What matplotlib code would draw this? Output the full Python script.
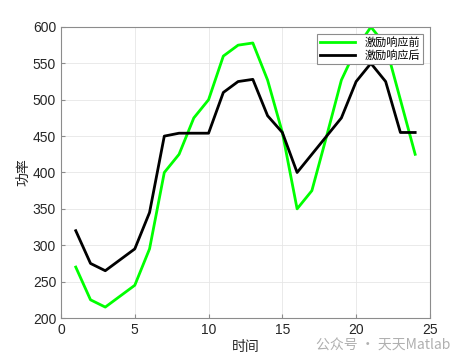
import matplotlib
matplotlib.use('Agg')
import matplotlib.pyplot as plt

# 数据
hours = list(range(1, 25))
before = [270, 225, 215, 230, 245, 295, 400, 425, 475, 500, 560, 575,
          578, 527, 455, 350, 375, 450, 527, 570, 600, 575, 500, 425]
after = [320, 275, 265, 280, 295, 345, 450, 454, 454, 454, 510, 525,
         528, 478, 455, 400, 425, 450, 475, 525, 550, 525, 455, 455]
labels = ['激励响应前', '激励响应后']
xticks = [0, 5, 10, 15, 20, 25]
yticks = [200, 250, 300, 350, 400, 450, 500, 550, 600]

plt.rcParams['font.family'] = ['Liberation Sans', 'Noto Sans CJK SC', 'DejaVu Sans']

fig = plt.figure(figsize=(4.74, 3.55), dpi=100)
ax = fig.add_axes([0.1287, 0.1042, 0.7783, 0.8198])

ax.plot(hours, before, color='#00ff00', linewidth=2, label=labels[0])
ax.plot(hours, after, color='black', linewidth=2, label=labels[1])

ax.set_xlim(0, 25)
ax.set_ylim(200, 600)
ax.set_xticks(xticks)
ax.set_yticks(yticks)
ax.grid(True, color='#e6e6e6', linewidth=0.6)
ax.set_axisbelow(True)

for s in ax.spines.values():
    s.set_color('#8c8c8c')
    s.set_linewidth(0.8)
ax.tick_params(direction='in', length=3, colors='#8c8c8c', labelcolor='#262626',
               labelsize=10, top=False, right=False)

cjk = ['Noto Sans CJK SC', 'DejaVu Sans']
ax.set_xlabel('时间', family=cjk, fontsize=10, color='#262626', labelpad=2)
ax.set_ylabel('功率', family=cjk, fontsize=10, color='#262626', labelpad=2)

leg = ax.legend(loc='upper right', prop={'family': cjk, 'size': 8},
                fancybox=False, framealpha=1, edgecolor='#8c8c8c',
                borderpad=0.3, handlelength=3.2, labelspacing=0.2,
                borderaxespad=0.6)
leg.get_frame().set_linewidth(0.8)

# 水印（放在刻度标签下方，避免重叠）
fig.text(0.95, 0.025, '公众号 · 天天Matlab', family=cjk, fontsize=10,
         color='#b0b0b0', ha='right', va='center')

fig.savefig('out.png', dpi=100)
